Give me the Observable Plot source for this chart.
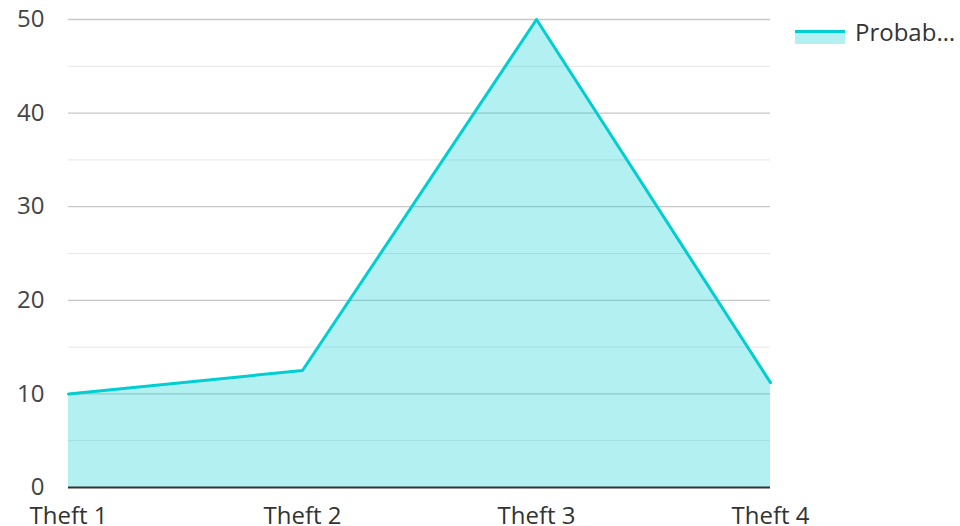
<!DOCTYPE html>
<html>
<head>
<meta charset="utf-8">
<script src="https://cdn.jsdelivr.net/npm/d3@7"></script>
<script src="https://cdn.jsdelivr.net/npm/@observablehq/plot@0.6"></script>
<style>
  html, body { margin: 0; padding: 0; background: #fff; }
  #wrap { position: relative; width: 960px; height: 526px; font-family: "Open Sans", "Noto Sans", sans-serif; }
  #legend { position: absolute; left: 795px; top: 15px; display: flex; align-items: center; font-size: 24px; color: #333; }
  #legend .sw { width: 50px; height: 14px; position: relative; margin-right: 10px; margin-top: 11px; }
  #legend .sw .fill { position: absolute; left: 0; right: 0; top: 2px; bottom: 0; background: rgba(0,206,209,0.3); }
  #legend .sw .ln { position: absolute; left: 0; right: 0; top: 0; height: 3px; background: #00CED1; }
</style>
</head>
<body>
<div id="wrap"><div id="chart"></div>
<div id="legend"><div class="sw"><div class="fill"></div><div class="ln"></div></div><span id="legtxt"></span></div>
</div>
<script>
const categories = ["Theft 1", "Theft 2", "Theft 3", "Theft 4"];
const values = [10, 12.5, 50, 11.2];
const seriesName = "Probab…";
const yTicks = [0, 10, 20, 30, 40, 50];
const yMinor = [5, 15, 25, 35, 45];

const data = categories.map((c, i) => ({cat: c, v: values[i]}));
const color = "#00CED1";

const chart = Plot.plot({
  width: 960,
  height: 526,
  marginLeft: 68,
  marginRight: 190,
  marginTop: 19,
  marginBottom: 39,
  style: {fontFamily: '"Open Sans", "Noto Sans", sans-serif', fontSize: "24px", color: "#444", background: "#fff", overflow: "visible"},
  x: {type: "point", domain: categories, padding: 0},
  y: {domain: [0, 50]},
  marks: [
    Plot.ruleY(yMinor, {stroke: "#e6e6e6", strokeWidth: 1}),
    Plot.ruleY(yTicks.filter(d => d > 0), {stroke: "#c8c8c8", strokeWidth: 1.3}),
    Plot.areaY(data, {x: "cat", y: "v", fill: color, fillOpacity: 0.3}),
    Plot.lineY(data, {x: "cat", y: "v", stroke: color, strokeWidth: 3}),
    Plot.ruleY([0], {stroke: "#333", strokeWidth: 2}),
    Plot.axisY(yTicks, {tickSize: 0, tickPadding: 24, fontSize: 24, fill: "#444", label: null}),
    Plot.axisX({tickSize: 0, tickPadding: 19, fontSize: 24, fill: "#333", label: null})
  ]
});
document.getElementById("chart").appendChild(chart);
document.getElementById("legtxt").textContent = seriesName;
</script>
</body>
</html>
